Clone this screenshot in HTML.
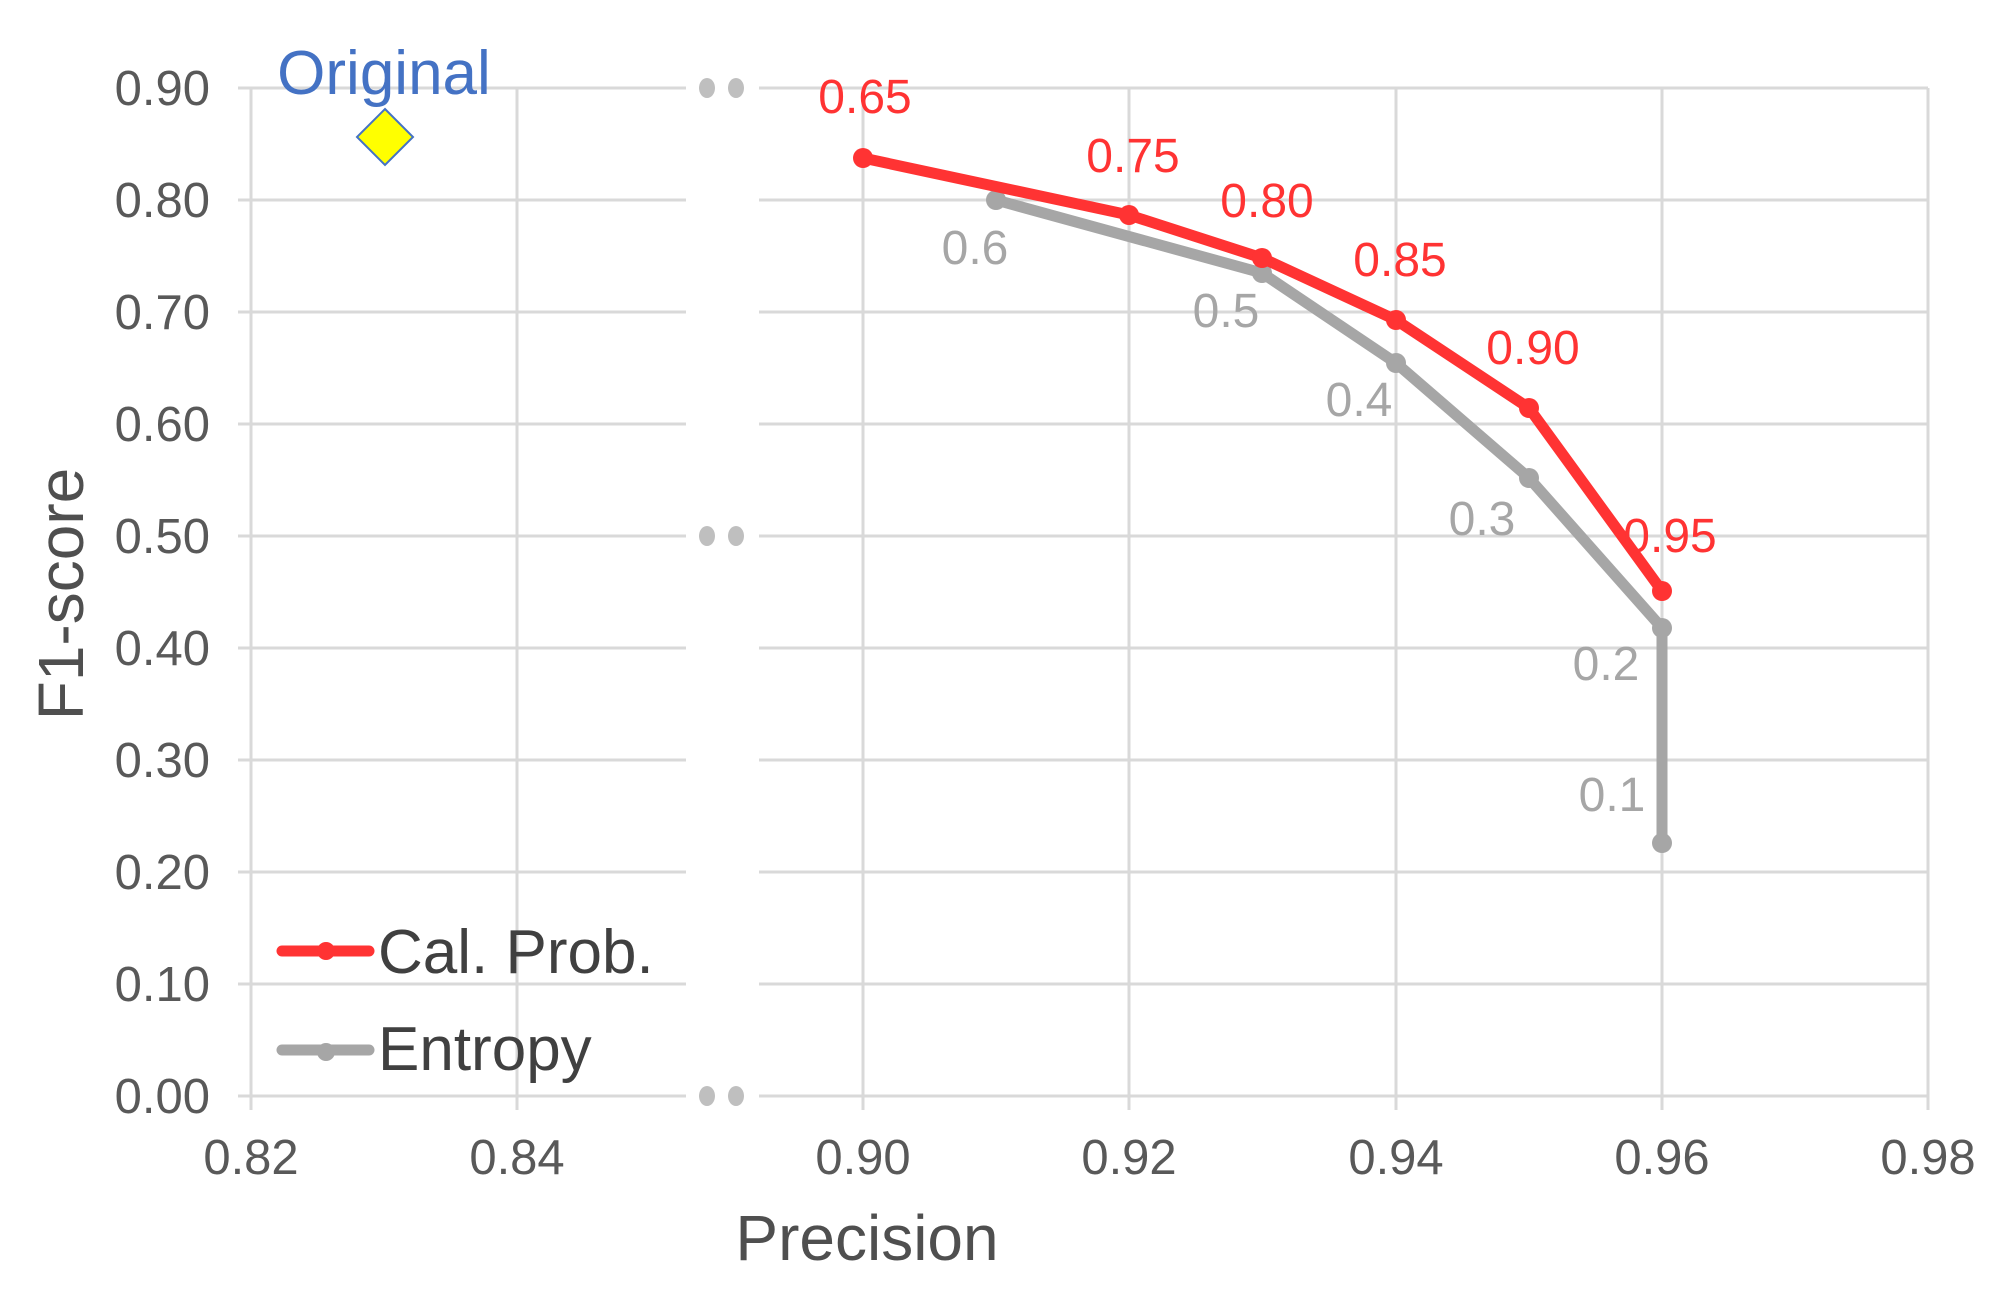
<!DOCTYPE html>
<html><head><meta charset="utf-8"><style>
html,body{margin:0;padding:0;background:#fff;}
svg{display:block;font-family:"Liberation Sans",sans-serif;}
</style></head><body>
<svg width="1997" height="1307" viewBox="0 0 1997 1307" xmlns="http://www.w3.org/2000/svg">
<g stroke="#d9d9d9" stroke-width="3">
  <line x1="238" y1="88" x2="686" y2="88"/>
  <line x1="238" y1="200" x2="686" y2="200"/>
  <line x1="238" y1="312" x2="686" y2="312"/>
  <line x1="238" y1="424" x2="686" y2="424"/>
  <line x1="238" y1="536" x2="686" y2="536"/>
  <line x1="238" y1="648" x2="686" y2="648"/>
  <line x1="238" y1="760" x2="686" y2="760"/>
  <line x1="238" y1="872" x2="686" y2="872"/>
  <line x1="238" y1="984" x2="686" y2="984"/>
  <line x1="238" y1="1096" x2="686" y2="1096"/>
  <line x1="759" y1="88" x2="1928" y2="88"/>
  <line x1="759" y1="200" x2="1928" y2="200"/>
  <line x1="759" y1="312" x2="1928" y2="312"/>
  <line x1="759" y1="424" x2="1928" y2="424"/>
  <line x1="759" y1="536" x2="1928" y2="536"/>
  <line x1="759" y1="648" x2="1928" y2="648"/>
  <line x1="759" y1="760" x2="1928" y2="760"/>
  <line x1="759" y1="872" x2="1928" y2="872"/>
  <line x1="759" y1="984" x2="1928" y2="984"/>
  <line x1="759" y1="1096" x2="1928" y2="1096"/>
  <line x1="251" y1="88" x2="251" y2="1110"/>
  <line x1="517" y1="88" x2="517" y2="1110"/>
  <line x1="863" y1="88" x2="863" y2="1110"/>
  <line x1="1129" y1="88" x2="1129" y2="1110"/>
  <line x1="1396" y1="88" x2="1396" y2="1110"/>
  <line x1="1662" y1="88" x2="1662" y2="1110"/>
  <line x1="1928" y1="88" x2="1928" y2="1110"/>
</g>
<g fill="#bfbfbf">
  <ellipse cx="707" cy="88" rx="8" ry="10"/><ellipse cx="736" cy="88" rx="8" ry="10"/>
  <ellipse cx="707" cy="536" rx="8" ry="10"/><ellipse cx="736" cy="536" rx="8" ry="10"/>
  <ellipse cx="707" cy="1096" rx="8" ry="10"/><ellipse cx="736" cy="1096" rx="8" ry="10"/>
</g>
<g fill="#595959" font-size="49" text-anchor="end">
  <text x="210" y="105">0.90</text>
  <text x="210" y="217">0.80</text>
  <text x="210" y="329">0.70</text>
  <text x="210" y="441">0.60</text>
  <text x="210" y="553">0.50</text>
  <text x="210" y="665">0.40</text>
  <text x="210" y="777">0.30</text>
  <text x="210" y="889">0.20</text>
  <text x="210" y="1001">0.10</text>
  <text x="210" y="1113">0.00</text>
</g>
<g fill="#595959" font-size="49" text-anchor="middle">
  <text x="251" y="1174">0.82</text>
  <text x="517" y="1174">0.84</text>
  <text x="863" y="1174">0.90</text>
  <text x="1129" y="1174">0.92</text>
  <text x="1396" y="1174">0.94</text>
  <text x="1662" y="1174">0.96</text>
  <text x="1928" y="1174">0.98</text>
</g>
<text x="867" y="1260" fill="#4f4f4f" font-size="64" text-anchor="middle">Precision</text>
<text transform="translate(83,594) rotate(-90)" fill="#4f4f4f" font-size="64" text-anchor="middle">F1-score</text>
<polyline fill="none" stroke="#a6a6a6" stroke-width="11" stroke-linejoin="round" points="996,200 1262,273 1396,363 1529,478 1662,628 1662,843"/>
<g fill="#a6a6a6"><circle cx="996" cy="200" r="10"/><circle cx="1262" cy="273" r="10"/><circle cx="1396" cy="363" r="10"/><circle cx="1529" cy="478" r="10"/><circle cx="1662" cy="628" r="10"/><circle cx="1662" cy="843" r="10"/></g>
<polyline fill="none" stroke="#ff3333" stroke-width="11" stroke-linejoin="round" points="863,158 1129,215 1262,258 1396,320 1529,408 1662,591"/>
<g fill="#ff3333"><circle cx="863" cy="158" r="10"/><circle cx="1129" cy="215" r="10"/><circle cx="1262" cy="258" r="10"/><circle cx="1396" cy="320" r="10"/><circle cx="1529" cy="408" r="10"/><circle cx="1662" cy="591" r="10"/></g>
<g fill="#ff3333" font-size="48" text-anchor="middle">
  <text x="865" y="113">0.65</text>
  <text x="1133" y="172">0.75</text>
  <text x="1267" y="217">0.80</text>
  <text x="1400" y="276">0.85</text>
  <text x="1533" y="364">0.90</text>
  <text x="1670" y="552">0.95</text>
</g>
<g fill="#a6a6a6" font-size="48" text-anchor="middle">
  <text x="975" y="264">0.6</text>
  <text x="1226" y="327">0.5</text>
  <text x="1359" y="416">0.4</text>
  <text x="1482" y="535">0.3</text>
  <text x="1606" y="680">0.2</text>
  <text x="1612" y="811">0.1</text>
</g>
<text x="384" y="94" fill="#4472c4" font-size="62" text-anchor="middle">Original</text>
<polygon points="385,109 413,137 385,165 357,137" fill="#ffff00" stroke="#4472c4" stroke-width="2"/>
<line x1="282" y1="951" x2="369" y2="951" stroke="#ff3333" stroke-width="11" stroke-linecap="round"/>
<circle cx="326" cy="951" r="9" fill="#ff3333"/>
<text x="378" y="973" fill="#404040" font-size="62">Cal. Prob.</text>
<line x1="282" y1="1050" x2="369" y2="1050" stroke="#a6a6a6" stroke-width="11" stroke-linecap="round"/>
<circle cx="326" cy="1052" r="9" fill="#a6a6a6"/>
<text x="378" y="1070" fill="#404040" font-size="62">Entropy</text>
</svg>
</body></html>
